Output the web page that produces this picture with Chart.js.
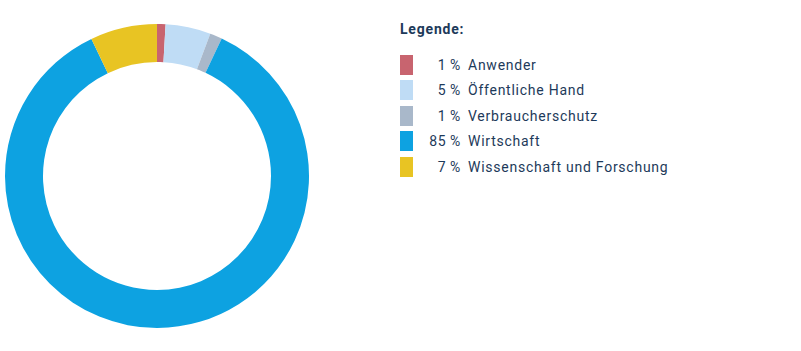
<!DOCTYPE html>
<html>
<head>
<meta charset="utf-8">
<script src="https://cdn.jsdelivr.net/npm/chart.js@4"></script>
<style>
  body { margin: 0; background: #fff; font-family: Roboto, sans-serif; color: #1d3a5a; }
  #wrap { position: relative; width: 801px; height: 351px; }
  #box { position: absolute; left: 5px; top: 24px; width: 304px; height: 304px; }
  #legend { position: absolute; left: 400px; top: 21px; }
  #legend h4 { margin: 0 0 15px 0; font-size: 14px; font-weight: 700; letter-spacing: 0.8px; }
  .row { display: flex; align-items: center; height: 25.5px; font-size: 14px; letter-spacing: 0.75px; }
  .sw { width: 13px; height: 20px; }
  .pct { width: 48px; text-align: right; }
  .lbl { margin-left: 7px; }
</style>
</head>
<body>
<div id="wrap">
  <div id="box"><canvas id="myChart"></canvas></div>
  <div id="legend"><h4>Legende:</h4></div>
</div>
<script>
let labels = ['Anwender', 'Öffentliche Hand', 'Verbraucherschutz', 'Wirtschaft', 'Wissenschaft und Forschung'];
let values = [0.9, 4.8, 1.3, 85.9, 7.1];
let shown = ['1', '5', '1', '85', '7'];
let colors = ['#c8646f', '#bfdcf5', '#a9b8ca', '#0da2e1', '#e8c423'];

let legend = document.getElementById('legend');
labels.forEach((l, i) => {
    let row = document.createElement('div');
    row.className = 'row';
    row.innerHTML = '<span class="sw" style="background:' + colors[i] + '"></span>' +
        '<span class="pct">' + shown[i] + '\u2009%</span><span class="lbl">' + l + '</span>';
    legend.appendChild(row);
});

let config = {
    type: 'doughnut',
    data: {
        labels: labels,
        datasets: [{
            data: values,
            backgroundColor: colors,
            borderWidth: 0
        }]
    },
    options: {
        responsive: true,
        maintainAspectRatio: false,
        animation: false,
        cutout: '75%',
        layout: { padding: 0 },
        plugins: {
            legend: { display: false },
            tooltip: { enabled: false }
        }
    }
};
let ctx = document.getElementById('myChart').getContext('2d');
var myChart = new Chart(ctx, config);
</script>
</body>
</html>
